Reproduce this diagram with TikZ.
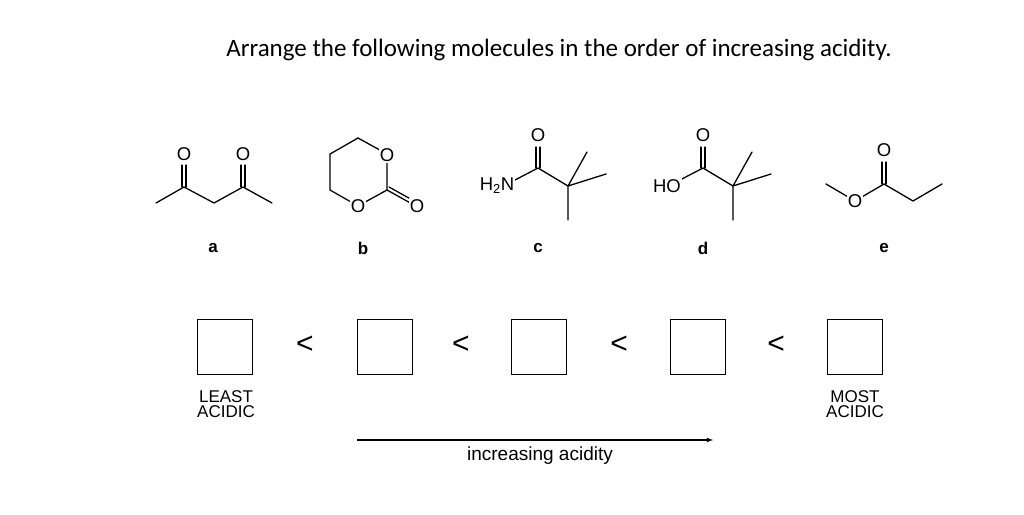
\documentclass[tikz,border=0pt]{standalone}
\usepackage{fontspec}
\setmainfont{Liberation Sans}
\newfontfamily\titlefont{Carlito}
\begin{document}
\begin{tikzpicture}[x=1pt,y=-1pt,
 bond/.style={line width=1.3pt,line cap=round},
 atom/.style={inner sep=1pt,font=\fontsize{18.5}{18}\selectfont,fill=white},
 lab/.style={font=\bfseries\fontsize{17}{17}\selectfont},
 ans/.style={draw,line width=1.2pt,minimum width=55pt,minimum height=55pt},
 lt/.style={font=\fontsize{30}{30}\selectfont},
 small/.style={font=\fontsize{17}{15.5}\selectfont,align=center}]
\useasboundingbox (0,0) rectangle (1024,514);
\node[font=\titlefont\fontsize{25}{25}\selectfont] (title) at (559,50) {Arrange the following molecules in the order of increasing acidity.};
% a
\draw[bond] (156,203)--(184,187)--(214,203)--(243,187)--(272,203);
\draw[bond] (182,187)--(182,165) (186,187)--(186,165);
\draw[bond] (241,187)--(241,165) (245,187)--(245,165);
\node[atom] (oa1) at (184,154) {O};
\node[atom] (oa2) at (243,154) {O};
% b
\draw[bond] (387,190)--(387,156) (358,138)--(330,154)--(330,190)--(358,206);
\draw[bond] (358,138)--(387,154) (358,206)--(387,190);
\draw[bond] (387,190)--(414,205) (389,187)--(416,202);
\node[atom] (ob1) at (387,155) {O};
\node[atom] (ob2) at (358,206) {O};
\node[atom] (ob3) at (417,206) {O};
% c
\draw[bond] (515,180)--(538,168)--(568,186);
\draw[bond] (536,168)--(536,147) (540,168)--(540,147);
\draw[bond] (568,186)--(587,152) (568,186)--(606,174) (568,186)--(568,220);
\node[atom] (nc) at (497,186) {H\textsubscript{2}N};
\node[atom] (oc) at (538,135) {O};
% d
\draw[bond] (680,180)--(703,168)--(733,186);
\draw[bond] (701,168)--(701,147) (705,168)--(705,147);
\draw[bond] (733,186)--(752,152) (733,186)--(771,174) (733,186)--(733,220);
\node[atom] (hd) at (667,186) {HO};
\node[atom] (od) at (703,135) {O};
% e
\draw[bond] (826,184)--(855,201)--(884,184)--(913,201)--(942,184);
\draw[bond] (882,184)--(882,162) (886,184)--(886,162);
\node[atom] (oe1) at (855,201) {O};
\node[atom] (oe2) at (884,150) {O};
% labels
\node[lab] (la) at (213,248) {a};
\node[lab] (lb) at (363,248) {b};
\node[lab] (lc) at (538,248) {c};
\node[lab] (ld) at (703,248) {d};
\node[lab] (le) at (884,248) {e};
% boxes
\node[ans] (b1) at (225,347) {};
\node[ans] (b2) at (385,347) {};
\node[ans] (b3) at (539,347) {};
\node[ans] (b4) at (698,347) {};
\node[ans] (b5) at (855,347) {};
\node[lt] (l1) at (305,345) {<};
\node[lt] (l2) at (461,345) {<};
\node[lt] (l3) at (619,345) {<};
\node[lt] (l4) at (776,345) {<};
\node[small] (least) at (226,404) {LEAST\\ACIDIC};
\node[small] (most) at (855,404) {MOST\\ACIDIC};
\coordinate (s) at (357,440);
\coordinate (t) at (713,440);
\draw[line width=1.1pt,-latex] (s)--(t);
\node[font=\fontsize{19}{18}\selectfont] (inc) at (540,456) {increasing acidity};
\end{tikzpicture}
\end{document}
